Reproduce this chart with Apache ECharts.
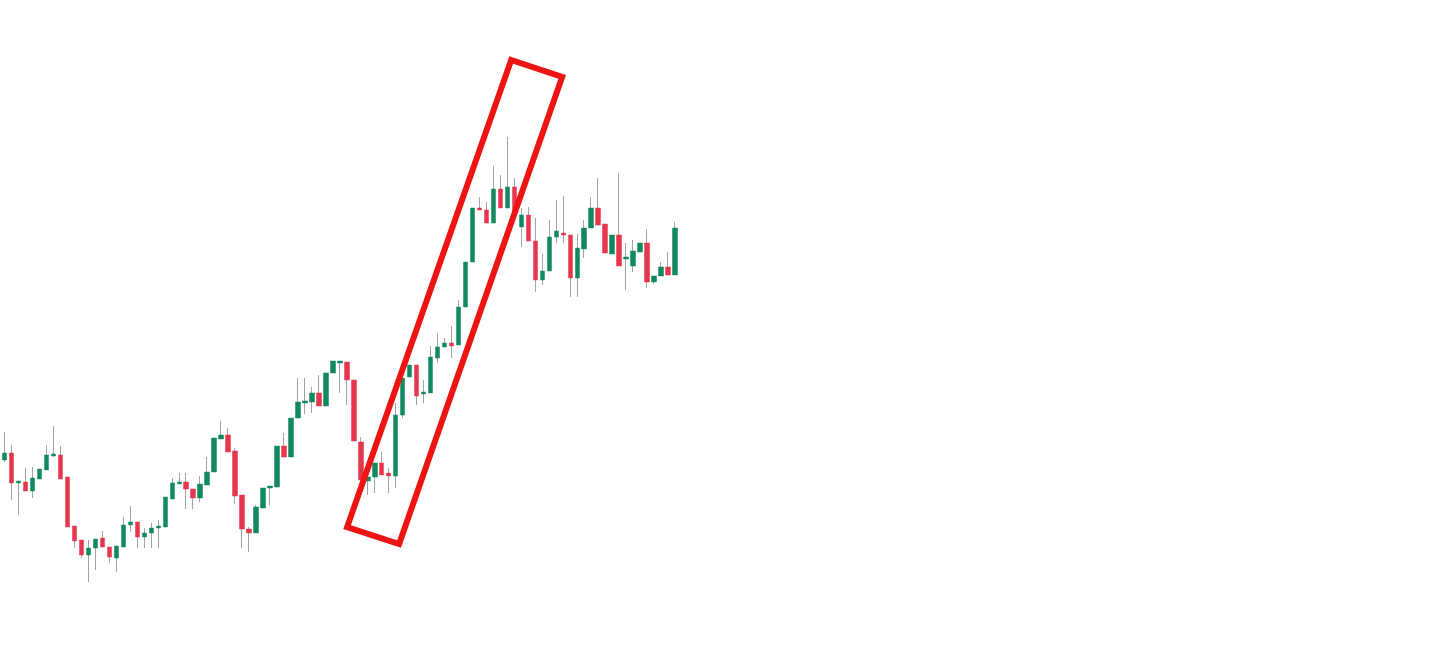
<!DOCTYPE html>
<html>
<head>
<meta charset="utf-8">
<script src="https://cdn.jsdelivr.net/npm/echarts@6/dist/echarts.min.js"></script>
<style>html,body{margin:0;padding:0;background:#fff;}#c{width:1440px;height:663px;}</style>
</head>
<body>
<div id="c"></div>
<script>
// candle data (price units)
const opens  = [203,210,180,181,172,184,193,207,208,186,137,123,108,115,125,116,105,116,138,141,126,130,135,136,164,179,181,174,165,178,191,224,228,212,168,134,130,155,175,176,217,206,245,260,261,270,257,290,300,301,283,221,182,186,200,190,187,248,286,298,269,270,305,316,320,318,356,401,455,453,440,474,455,476,436,448,422,383,392,426,430,428,385,414,435,455,439,409,428,404,397,411,420,381,387,396,388];
const closes = [210,180,182,172,185,194,208,209,184,136,122,108,115,124,116,106,117,138,141,126,130,135,137,166,180,181,174,165,179,191,225,228,211,167,134,130,156,175,177,217,206,245,261,262,270,257,290,302,302,283,222,183,186,200,188,187,248,285,298,267,271,306,316,320,317,356,401,455,453,440,474,455,476,447,448,422,383,392,426,432,428,385,415,435,455,438,410,428,397,406,412,420,381,387,396,388,435];
const lows   = [201,163,148,172,165,184,193,206,184,136,115,105,81,93,116,100,91,116,131,115,115,115,115,136,164,179,154,154,161,178,191,224,211,159,115,111,130,155,158,176,206,206,245,249,250,257,257,290,270,258,222,178,168,170,188,170,175,245,286,258,260,270,300,316,305,318,356,401,453,440,440,455,455,447,416,422,371,378,392,420,420,366,366,405,435,438,410,409,397,373,391,411,375,379,387,388,388];
const highs  = [231,218,182,195,196,194,218,237,217,186,137,123,123,124,132,116,117,146,157,141,135,140,143,166,185,190,190,174,187,206,225,242,235,215,168,136,158,175,177,217,230,245,285,285,276,288,290,302,302,301,283,226,186,200,211,195,260,285,298,298,283,317,330,325,337,363,401,455,466,461,497,488,526,485,455,456,445,409,443,463,467,428,429,443,466,485,439,428,490,420,423,420,434,387,401,411,441];
const categories = opens.map((_, i) => String(i + 1));
// annotation box corners [category index, price]
const boxX = [72.54, 79.84, 56.49, 49.04];
const boxY = [603, 586, 119, 136];

const green = '#10895f', red = '#e6364d', wick = '#a3a3a3';
const wickData = opens.map((o, i) => [o, closes[i], lows[i], highs[i]]);
const bodyData = opens.map((o, i) => [o, closes[i], Math.min(o, closes[i]), Math.max(o, closes[i])]);
const boxPts = [0,1,2,3,0,1].map(k => [boxX[k], boxY[k]]);

const chart = echarts.init(document.getElementById('c'));
chart.setOption({
  animation: false,
  backgroundColor: '#ffffff',
  grid: { left: 1.2, top: 0, width: 677.3, height: 663 },
  xAxis: [
    { type: 'category', data: categories, show: false, boundaryGap: true },
    { type: 'value', min: -0.5, max: opens.length - 0.5, show: false }
  ],
  yAxis: { type: 'value', min: 0, max: 663, show: false, splitLine: { show: false } },
  series: [
    { type: 'candlestick', data: wickData, barWidth: 1,
      itemStyle: { color: wick, color0: wick, borderColor: wick, borderColor0: wick, borderWidth: 1 } },
    { type: 'candlestick', data: bodyData, barWidth: 5,
      itemStyle: { color: green, color0: red, borderColor: green, borderColor0: red, borderWidth: 0.5 } },
    { type: 'line', xAxisIndex: 1, data: boxPts, symbol: 'none', silent: true,
      lineStyle: { color: '#ee1414', width: 6, join: 'miter' } }
  ]
});
</script>
</body>
</html>
